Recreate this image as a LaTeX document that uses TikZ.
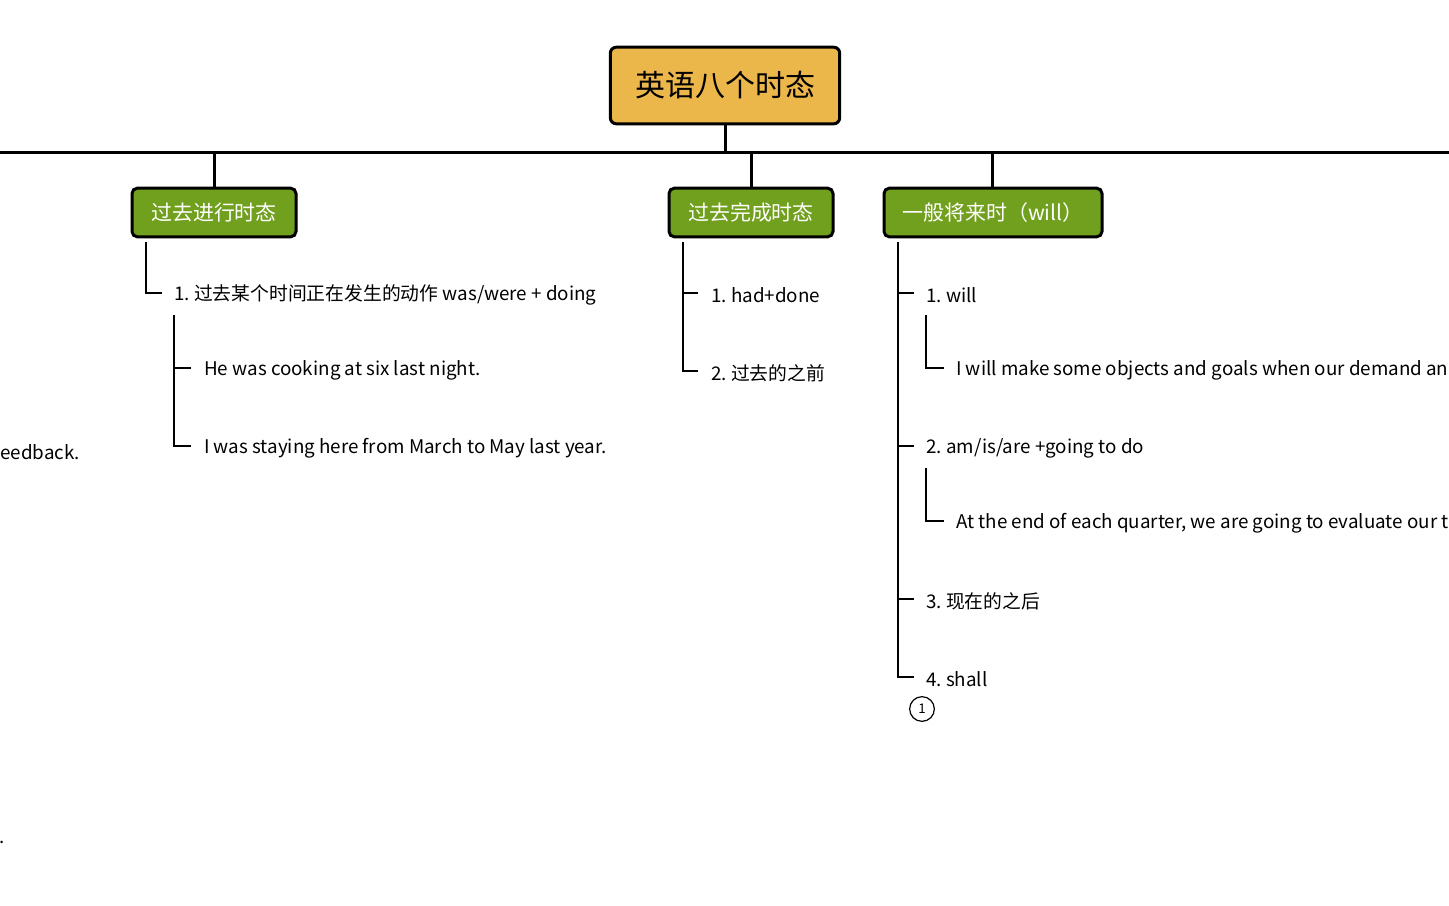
\documentclass[tikz,border=0pt]{standalone}
\usepackage{fontspec}
\setmainfont{Noto Sans CJK SC}
\definecolor{rootfill}{HTML}{EBB64A}
\definecolor{branchfill}{HTML}{71A01E}
\begin{document}
\begin{tikzpicture}[x=0.75pt,y=-0.75pt,
  rootbox/.style={draw=black,line width=2.25pt,fill=rootfill,rounded corners=4.5pt,
    minimum width=172pt,minimum height=57.5pt,inner sep=0pt,font=\fontsize{22.5pt}{26pt}\selectfont},
  branchbox/.style={draw=black,line width=2.25pt,fill=branchfill,rounded corners=4pt,
    minimum height=36.5pt,inner sep=0pt,text=white,font=\fontsize{15.7pt}{18pt}\selectfont},
  leaf/.style={anchor=west,inner sep=0pt,yshift=-1.8pt,font=\fontsize{14.1pt}{16pt}\selectfont},
  thick line/.style={line width=2.25pt},
  thin line/.style={line width=1.1pt},
]
\useasboundingbox (0,0) rectangle (1449,906);
\fill[white] (0,0) rectangle (1449,906);
\clip (0,0) rectangle (1449,906);

% main bar
\coordinate (barL) at (-10,152);
\coordinate (barR) at (1460,152);
\coordinate (bRoot) at (725,152);
\coordinate (b1) at (214,152);
\coordinate (b2) at (751,152);
\coordinate (b3) at (992,152);
\draw[thick line] (barL) -- (barR);

% root
\node[rootbox] (root) at (725,85.5) {英语八个时态};
\draw[thick line] (root.south) -- (bRoot);

% branch boxes
\node[branchbox,minimum width=123pt] (p1) at (214,212.5) {过去进行时态};
\node[branchbox,minimum width=123pt] (p2) at (751,212.5) {过去完成时态};
\node[branchbox,minimum width=163.5pt] (p3) at (993,212.5) {一般将来时（will）};
\draw[thick line] (b1) -- (b1 |- p1.north);
\draw[thick line] (b2) -- (b2 |- p2.north);
\draw[thick line] (b3) -- (b3 |- p3.north);

% ---- branch 1
\node[leaf] (a1) at (174,293) {1.\ 过去某个时间正在发生的动作 was/were + doing};
\node[leaf] (a11) at (204,368) {He was cooking at six last night.};
\node[leaf] (a12) at (204,446) {I was staying here from March to May last year.};
\coordinate (a1top) at (146,242);
\coordinate (a1c) at (146,293);
\coordinate (a1e) at (162,293);
\draw[thin line] (a1top) -- (a1c) -- (a1e);
\coordinate (a1vt) at (174,315);
\coordinate (a1v1) at (174,368);
\coordinate (a1v2) at (174,446);
\draw[thin line] (a1vt) -- (a1v2) -- (191,446);
\draw[thin line] (a1v1) -- (191,368);

% ---- branch 2
\node[leaf] (c1) at (711,293) {1.\ had+done};
\node[leaf] (c2) at (711,371) {2.\ 过去的之前};
\coordinate (c0) at (683,242);
\coordinate (cv1) at (683,293);
\coordinate (cv2) at (683,371);
\draw[thin line] (c0) -- (cv2) -- (698,371);
\draw[thin line] (cv1) -- (698,293);

% ---- branch 3
\node[leaf] (d1) at (926,293) {1.\ will};
\node[leaf] (d11) at (956,368) {I will make some objects and goals when our demand and};
\node[leaf] (d2) at (926,446) {2.\ am/is/are +going to do};
\node[leaf] (d21) at (956,521) {At the end of each quarter, we are going to evaluate our t};
\node[leaf] (d3) at (926,599) {3.\ 现在的之后};
\node[leaf] (d4) at (926,677) {4.\ shall};
\coordinate (d0) at (898,242);
\coordinate (dv1) at (898,293);
\coordinate (dv2) at (898,446);
\coordinate (dv3) at (898,599);
\coordinate (dv4) at (898,677);
\draw[thin line] (d0) -- (dv4) -- (914,677);
\draw[thin line] (dv1) -- (914,293);
\draw[thin line] (dv2) -- (914,446);
\draw[thin line] (dv3) -- (914,599);
\draw[thin line] (926,315) -- (926,368) -- (944,368);
\draw[thin line] (926,468) -- (926,521) -- (944,521);

\node[circle,draw=black,line width=0.9pt,minimum size=18.5pt,inner sep=0pt,
  font=\fontsize{10pt}{12pt}\selectfont] (m1) at (922,709) {1};

% texts of neighbouring branches, as far as they show
\node[leaf] (fb) at (0,450) {eedback.};
\node[leaf] (dot) at (-1,840) {.};
\end{tikzpicture}
\end{document}
